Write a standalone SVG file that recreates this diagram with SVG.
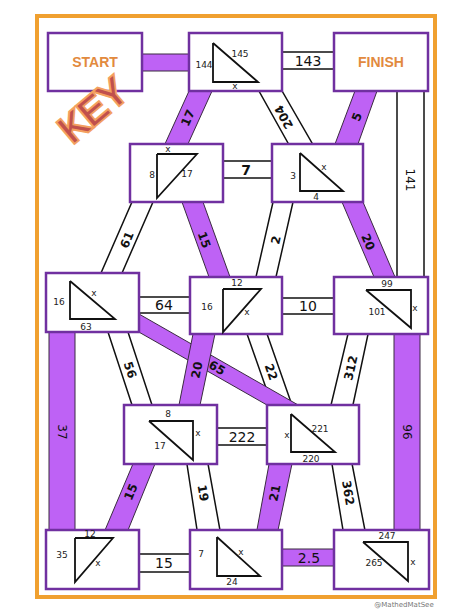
<svg xmlns="http://www.w3.org/2000/svg" width="474" height="613" viewBox="0 0 474 613">
<style>
.box{fill:#fff;stroke:#7030A0;stroke-width:2.5}
.pb{fill:#BE62F5;stroke:#3a2a40;stroke-width:1}
.wb{fill:#fff;stroke:#111;stroke-width:1.5}
.tri{fill:none;stroke:#111;stroke-width:1.8;stroke-linejoin:miter}
.s{font-family:"DejaVu Sans",Verdana,sans-serif;font-size:9px;fill:#222;text-anchor:middle;dominant-baseline:central}
.l{font-family:"DejaVu Sans",Verdana,sans-serif;font-size:12px;font-weight:bold;fill:#111;text-anchor:middle;dominant-baseline:central}
.h{font-family:"DejaVu Sans",Verdana,sans-serif;font-size:14px;fill:#111;text-anchor:middle;dominant-baseline:central}
.v{font-family:"DejaVu Sans",Verdana,sans-serif;font-size:12px;fill:#111;text-anchor:middle;dominant-baseline:central}
.o{font-family:"Liberation Sans",Arial,sans-serif;font-size:14px;font-weight:bold;fill:#E28A3E;text-anchor:middle;dominant-baseline:central}
</style>
<rect width="474" height="613" fill="#fff"/>
<rect x="37" y="16" width="398" height="581" fill="none" stroke="#F0A030" stroke-width="4"/>
<g id="connectors">
  <rect class="pb" x="140" y="54" width="51" height="17"/>
  <rect class="wb" x="280" y="52" width="56" height="17"/>
  <rect class="wb" x="221" y="161" width="53" height="17"/>
  <rect class="wb" x="137" y="297" width="55" height="16"/>
  <rect class="wb" x="280" y="298" width="56" height="16"/>
  <rect class="wb" x="215" y="428" width="54" height="17"/>
  <rect class="wb" x="137" y="554" width="55" height="18"/>
  <rect class="pb" x="280" y="549" width="56" height="17"/>
  <rect class="wb" x="397" y="89" width="27" height="190"/>
  <rect class="pb" x="49" y="330" width="26" height="202"/>
  <rect class="pb" x="394" y="332" width="26" height="200"/>
  <polygon class="pb" points="190.4,88 213.4,88 186.6,147 163.6,147"/>
  <polygon class="wb" points="257.3,88 280.3,88 313.7,146 289.7,146"/>
  <polygon class="pb" points="356.1,88 378.1,88 356.9,147 333.9,147"/>
  <polygon class="wb" points="133.3,199 154.3,199 120.7,276 99.7,276"/>
  <polygon class="pb" points="180.9,199 201.9,199 231.1,280 210.1,280"/>
  <polygon class="wb" points="273.7,199 293.7,199 275.3,280 255.3,280"/>
  <polygon class="pb" points="340.7,199 361.7,199 396.3,280 375.3,280"/>
  <polygon class="wb" points="107,329 127,329 153,408 133,408"/>
  <polygon class="wb" points="246,331 266,331 293,408 273,408"/>
  <polygon class="pb" points="125,306 302,407.2 271,407.3 130,327"/>
  <polygon class="pb" points="193.6,331 215.6,331 199.4,408 178.4,408"/>
  <polygon class="wb" points="348.7,331 368.7,331 352.3,408 330.3,408"/>
  <polygon class="pb" points="134.2,461 156.2,461 126.8,533 103.8,533"/>
  <polygon class="wb" points="186.5,461 207.5,461 220.5,533 197.5,533"/>
  <polygon class="pb" points="269.6,461 292.6,461 277.4,533 256.4,533"/>
  <polygon class="wb" points="331.5,461 351.5,461 365.5,533 343.5,533"/>
  <text class="h" x="308" y="61">143</text>
  <text class="h" x="246" y="170" font-weight="bold">7</text>
  <text class="h" x="164" y="305">64</text>
  <text class="h" x="308" y="306">10</text>
  <text class="h" x="242" y="437">222</text>
  <text class="h" x="164" y="563">15</text>
  <text class="h" x="309" y="558" fill="#4a3a55">2.5</text>
  <text class="v" transform="translate(410,180) rotate(90)">141</text>
  <text class="v" transform="translate(62,432) rotate(90)">37</text>
  <text class="v" transform="translate(407,432) rotate(90)">96</text>
  <text class="l" transform="translate(188,118) rotate(-66)">17</text>
  <text class="l" transform="translate(284,117) rotate(-119)">204</text>
  <text class="l" transform="translate(357,117) rotate(-69)">5</text>
  <text class="l" transform="translate(127,240) rotate(-67)">61</text>
  <text class="l" transform="translate(204,240) rotate(70)">15</text>
  <text class="l" transform="translate(276,240) rotate(-77)">2</text>
  <text class="l" transform="translate(368,242) rotate(67)">20</text>
  <text class="l" transform="translate(130,370) rotate(72)">56</text>
  <text class="l" transform="translate(217,368) rotate(30)">65</text>
  <text class="l" transform="translate(197,370) rotate(-79)">20</text>
  <text class="l" transform="translate(271,372) rotate(71)">22</text>
  <text class="l" transform="translate(351,368) rotate(-77)">312</text>
  <text class="l" transform="translate(131,492) rotate(-68)">15</text>
  <text class="l" transform="translate(203,493) rotate(80)">19</text>
  <text class="l" transform="translate(275,493) rotate(-79)">21</text>
  <text class="l" transform="translate(348,493) rotate(80)">362</text>
</g>
<g id="start"><rect class="box" x="48" y="33" width="94" height="58"/><text class="o" x="95" y="62">START</text></g>
<g id="finish"><rect class="box" x="334" y="33" width="94" height="58"/><text class="o" x="381" y="62">FINISH</text></g>
<g id="b1"><rect class="box" x="189" y="33" width="93" height="58"/>
  <polyline class="tri" points="213,43 213,82 258,82 213,43"/>
  <text class="s" x="204" y="65">144</text><text class="s" x="240" y="54">145</text><text class="s" x="235" y="86">x</text></g>
<g id="b2"><rect class="box" x="130" y="144" width="93" height="58"/>
  <polyline class="tri" points="157,154 197,154 157,198 157,154"/>
  <text class="s" x="168" y="149">x</text><text class="s" x="152" y="175">8</text><text class="s" x="187" y="174">17</text></g>
<g id="b3"><rect class="box" x="272" y="144" width="91" height="58"/>
  <polyline class="tri" points="300,153 300,191 343,191 300,153"/>
  <text class="s" x="293" y="176">3</text><text class="s" x="324" y="167">x</text><text class="s" x="316" y="197">4</text></g>
<g id="b4"><rect class="box" x="46" y="273" width="93" height="59"/>
  <polyline class="tri" points="70,281 70,319 115,319 70,281"/>
  <text class="s" x="59" y="302">16</text><text class="s" x="94" y="293">x</text><text class="s" x="86" y="327">63</text></g>
<g id="b5"><rect class="box" x="190" y="277" width="92" height="57"/>
  <polyline class="tri" points="223,289 261,289 223,332 223,289"/>
  <text class="s" x="237" y="283">12</text><text class="s" x="207" y="307">16</text><text class="s" x="247" y="312">x</text></g>
<g id="b6"><rect class="box" x="334" y="277" width="94" height="57"/>
  <polyline class="tri" points="366,290 411,290 411,328 366,290"/>
  <text class="s" x="387" y="284">99</text><text class="s" x="377" y="312">101</text><text class="s" x="415" y="308">x</text></g>
<g id="b7"><rect class="box" x="124" y="405" width="93" height="59"/>
  <polyline class="tri" points="149,421 193,421 193,460 149,421"/>
  <text class="s" x="168" y="414">8</text><text class="s" x="198" y="433">x</text><text class="s" x="160" y="446">17</text></g>
<g id="b8"><rect class="box" x="267" y="405" width="92" height="59"/>
  <polyline class="tri" points="291,414 291,452 335,452 291,414"/>
  <text class="s" x="287" y="435">x</text><text class="s" x="320" y="429">221</text><text class="s" x="311" y="459">220</text></g>
<g id="b9"><rect class="box" x="46" y="530" width="93" height="59"/>
  <polyline class="tri" points="75,538 113,538 75,582 75,538"/>
  <text class="s" x="90" y="534">12</text><text class="s" x="62" y="555">35</text><text class="s" x="98" y="563">x</text></g>
<g id="b10"><rect class="box" x="190" y="530" width="92" height="59"/>
  <polyline class="tri" points="217,537 217,576 260,576 217,537"/>
  <text class="s" x="201" y="554">7</text><text class="s" x="241" y="552">x</text><text class="s" x="232" y="582">24</text></g>
<g id="b11"><rect class="box" x="334" y="530" width="95" height="59"/>
  <polyline class="tri" points="363,542 408,542 408,581 363,542"/>
  <text class="s" x="387" y="536">247</text><text class="s" x="374" y="563">265</text><text class="s" x="413" y="562">x</text></g>
<text transform="translate(93,110) rotate(-40)" font-family="Liberation Sans,Arial,sans-serif" font-size="38" fill="#C0504D" stroke="#F4A060" stroke-width="4" paint-order="stroke" text-anchor="middle" dominant-baseline="central">KEY</text>
<text x="404" y="605" font-family="DejaVu Sans,sans-serif" font-size="7" fill="#777" text-anchor="middle" dominant-baseline="central">@MathedMatSee</text>
</svg>
